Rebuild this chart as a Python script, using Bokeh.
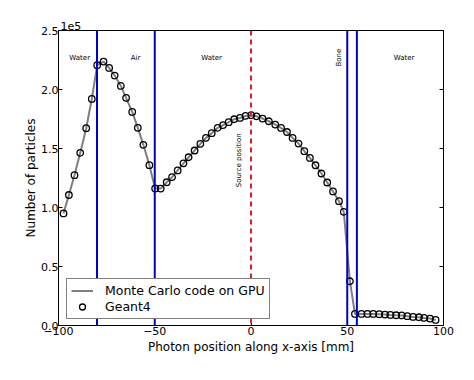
from bokeh.plotting import figure
from bokeh.models import (Span, Label, Legend, LegendItem, LinearAxis,
                          CustomJSTickFormatter, FixedTicker, Range1d, ColumnDataSource)
from bokeh.embed import file_html
from bokeh.resources import INLINE

# ---- data ----
position_mm = [-97.4, -94.6, -91.7, -88.7, -85.6, -82.7, -79.9, -76.6, -73.7, -70.8,
               -67.6, -64.9, -61.7, -58.8, -55.9, -52.8, -49.8, -46.9, -43.8, -41.0,
               -38.1, -35.1, -32.4, -29.3, -26.3, -23.4, -20.4, -17.3, -14.5, -11.6,
               -8.7, -5.7, -2.8, 0.2, 2.9, 6.0, 9.3, 12.6, 15.6, 18.7,
               21.6, 24.7, 27.7, 30.6, 33.5, 36.6, 39.6, 42.6, 45.7, 48.2,
               51.4, 54.0, 57.4, 60.5, 63.5, 66.6, 69.6, 72.4, 75.4, 78.4,
               81.2, 84.2, 87.3, 90.0, 93.0, 95.9]

geant4_counts = [95000, 110600, 127400, 146300, 167200, 192000, 220600, 223700, 218300, 211800,
                 203000, 192900, 181000, 167500, 153100, 135900, 116100, 116000, 121400, 125700,
                 131400, 137400, 142600, 148300, 153900, 159000, 163000, 167500, 169800, 172300,
                 174800, 175900, 177600, 178200, 177300, 175400, 173100, 170300, 167400, 164000,
                 159000, 154200, 147700, 142000, 135800, 128800, 121200, 113600, 105400, 96300,
                 37500, 9800, 9800, 9800, 9800, 9600, 9300, 9000, 8700, 8500,
                 7900, 7300, 7000, 6400, 5900, 4700]

gpu_counts = [95000, 110600, 127400, 146300, 167200, 192000, 220600, 223700, 218300, 211800,
              203000, 192900, 181000, 167500, 153100, 135900, 116100, 116000, 121400, 125700,
              131400, 137400, 142600, 148300, 153900, 159000, 163000, 167500, 169800, 172300,
              174800, 175900, 177600, 178200, 177300, 175400, 173100, 170300, 167400, 164000,
              159000, 154200, 147700, 142000, 135800, 128800, 121200, 113600, 105400, 96300,
              37500, 9800, 9800, 9800, 9800, 9600, 9300, 9000, 8700, 8500,
              7900, 7300, 7000, 6400, 5900, 4700]

boundaries_mm = [-80, -50, 50, 55]
source_mm = 0
region_names = ["Water", "Air", "Water", "Water"]
region_centers_mm = [-89, -60, -20.5, 79.5]
bone_name = "Bone"
bone_center_mm = 45.8
x_ticks = [-100, -50, 0, 50, 100]
y_ticks = [0, 50000, 100000, 150000, 200000, 250000]

FONT = "DejaVu Sans"

p = figure(frame_width=385, frame_height=295,
           x_range=Range1d(-100, 100), y_range=Range1d(0, 250000),
           output_backend="svg", toolbar_location=None,
           min_border_left=58, min_border_right=30,
           min_border_top=30, min_border_bottom=48)
p.background_fill_color = "white"
p.border_fill_color = "white"
p.outline_line_color = "black"
p.outline_line_width = 1
p.xgrid.visible = False
p.ygrid.visible = False

p.title.text = "1e5"
p.title.text_font = FONT
p.title.text_font_size = "11px"
p.title.text_font_style = "normal"
p.title.text_color = "black"
p.title.align = "left"
p.title.offset = 2
p.title.standoff = 2

xfmt = CustomJSTickFormatter(code="return tick < 0 ? '\\u2212' + Math.abs(tick) : String(tick);")
yfmt = CustomJSTickFormatter(code="return (tick/1e5).toFixed(1);")
blank = CustomJSTickFormatter(code="return '';")

def style_axis(ax):
    ax.major_tick_in = 4
    ax.major_tick_out = 0
    ax.minor_tick_line_color = None
    ax.axis_line_color = "black"
    ax.major_tick_line_color = "black"
    ax.major_label_text_font = FONT
    ax.major_label_text_font_size = "11px"
    ax.major_label_text_color = "black"
    ax.axis_label_text_font = FONT
    ax.axis_label_text_font_size = "12px"
    ax.axis_label_text_font_style = "normal"
    ax.axis_label_text_color = "black"

p.xaxis.ticker = FixedTicker(ticks=x_ticks)
p.xaxis.formatter = xfmt
p.yaxis.ticker = FixedTicker(ticks=y_ticks)
p.yaxis.formatter = yfmt
style_axis(p.xaxis[0])
style_axis(p.yaxis[0])
p.xaxis.axis_label = "Photon position along x-axis [mm]"
p.yaxis.axis_label = "Number of particles"
p.xaxis.major_label_standoff = 1
p.yaxis.major_label_standoff = 0
p.xaxis.axis_label_standoff = 2
p.yaxis.axis_label_standoff = 0

top_ax = LinearAxis(ticker=FixedTicker(ticks=x_ticks), formatter=blank, major_label_standoff=0)
right_ax = LinearAxis(ticker=FixedTicker(ticks=y_ticks), formatter=blank, major_label_standoff=0)
style_axis(top_ax)
style_axis(right_ax)
p.add_layout(top_ax, "above")
p.add_layout(right_ax, "right")

# region boundaries
for b in boundaries_mm:
    p.add_layout(Span(location=b, dimension="height", line_color="#0000cc", line_width=2))
p.add_layout(Span(location=source_mm, dimension="height", line_color="#dd1c2c",
                  line_width=2, line_dash="5 4"))

src = ColumnDataSource(dict(x=position_mm, g=geant4_counts, m=gpu_counts))
line_r = p.line("x", "m", source=src, line_color="#7f7f7f", line_width=2)
scat_r = p.scatter("x", "g", source=src, marker="circle", size=6.5,
                   line_color="black", line_width=1.3, fill_color="white", fill_alpha=0.0)

for name, cx in zip(region_names, region_centers_mm):
    p.add_layout(Label(x=cx, y=226500, text=name, text_font=FONT, text_font_size="7px",
                       text_align="center", text_baseline="middle", text_color="black"))
p.add_layout(Label(x=bone_center_mm, y=227000, text=bone_name, angle=1.5708,
                   text_font=FONT, text_font_size="7px", text_align="center",
                   text_baseline="middle", text_color="black"))
p.add_layout(Label(x=-6.1, y=140000, text="Source position", angle=1.5708,
                   text_font=FONT, text_font_size="7px", text_align="center",
                   text_baseline="middle", text_color="black"))

legend = Legend(items=[LegendItem(label="Monte Carlo code on GPU", renderers=[line_r]),
                       LegendItem(label="Geant4", renderers=[scat_r])],
                location=(8, 6))
legend.label_text_font = FONT
legend.label_text_font_size = "12.5px"
legend.label_text_color = "black"
legend.border_line_color = "black"
legend.border_line_width = 1.2
legend.background_fill_alpha = 1.0
legend.glyph_width = 22
legend.glyph_height = 15
legend.label_height = 15
legend.spacing = 1
legend.padding = 4
legend.margin = 0
legend.label_standoff = 12
p.add_layout(legend)

open("out.html", "w").write(file_html(p, INLINE))
